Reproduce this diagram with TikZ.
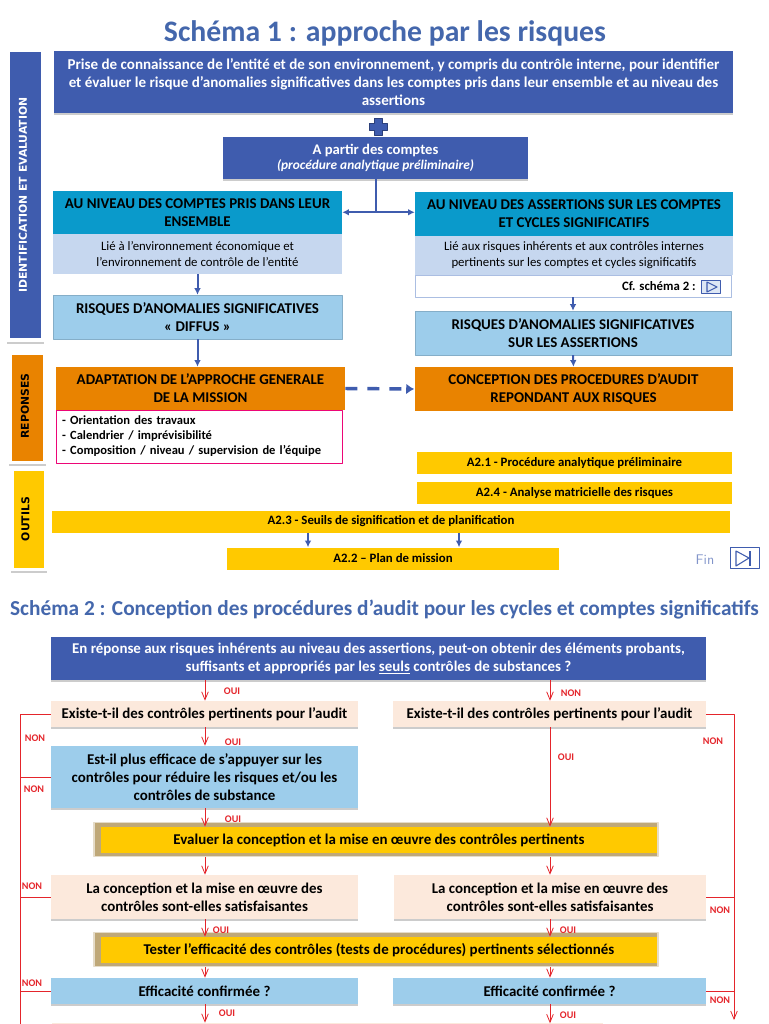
\documentclass[tikz,border=0pt]{standalone}
\usepackage{fontspec}
\usepackage{xcolor}
\usepackage{tikz}
\usetikzlibrary{calc, shadows, arrows.meta}
\setmainfont{Carlito}
\newfontfamily\widefont{DejaVu Sans}

\definecolor{bleu}{HTML}{3F5CAE}
\definecolor{titre}{HTML}{4467AC}
\definecolor{cyan}{HTML}{0A9ACB}
\definecolor{clair}{HTML}{C6D7EF}
\definecolor{ciel}{HTML}{9DCDEB}
\definecolor{orange}{HTML}{E98300}
\definecolor{jaune}{HTML}{FFC900}
\definecolor{peche}{HTML}{FCE9DC}
\definecolor{rouge}{HTML}{E4252B}
\definecolor{halo}{HTML}{BFA878}

\tikzset{
    bloc/.style={rectangle, inner sep=0pt, align=center, font=\bfseries\fontsize{11.2}{13.5}\selectfont},
    ombre/.style={drop shadow={shadow xshift=0pt, shadow yshift=-1.5pt, opacity=0.2, fill=black}},
    bleubox/.style={bloc, fill=bleu, text=white, ombre},
    cyanbox/.style={bloc, fill=cyan},
    clairbox/.style={bloc, fill=clair, font=\fontsize{9.6}{12}\selectfont},
    cielbox/.style={bloc, fill=ciel, draw=ciel!85!black, line width=0.3pt},
    orangebox/.style={bloc, fill=orange},
    jaunebox/.style={bloc, fill=jaune, font=\bfseries\fontsize{9.6}{11}\selectfont},
    pechebox/.style={bloc, fill=peche, ombre},
    cielombre/.style={bloc, fill=ciel, ombre},
    testbox/.style={bloc, fill=jaune},
    halobox/.style={rectangle, inner sep=0pt, fill=halo, draw=halo!40!white, line width=1.2pt},
    cadre/.style={fill=white, drop shadow={shadow xshift=0pt, shadow yshift=-1.5pt, opacity=0.2, fill=black}},
    cotebar/.style={rectangle, inner sep=0pt, align=center, font=\widefont\bfseries\fontsize{8.1}{9}\selectfont},
    oui/.style={inner sep=0pt, text=rouge, font=\bfseries\fontsize{7.6}{9}\selectfont},
    flechebleue/.style={draw=bleu, line width=1.5pt, -{Latex[length=5pt, width=5pt]}},
    flecherouge/.style={draw=rouge, line width=0.6pt, -{Straight Barb[length=6pt, width=5pt]}},
    lignerouge/.style={draw=rouge, line width=0.6pt}
}

\begin{document}
\begin{tikzpicture}[x=0.75pt, y=-0.75pt, line join=round]

    \useasboundingbox (0,0) rectangle (768,1024);

    % =========================
    % COORDONNEES DES COLONNES
    % =========================
    \coordinate (colG) at (205,0);
    \coordinate (colD) at (550,0);
    \coordinate (murG) at (20,0);
    \coordinate (murD) at (734,0);

    % =========================
    % SCHEMA 1
    % =========================
    \node[text=titre, font=\bfseries\fontsize{22.3}{24}\selectfont] (titre1) at (385,33) {Schéma 1 : approche par les risques};

    % Bandeaux de gauche
    \fill[cadre] (7,49) rectangle (44,342);
    \fill[cadre] (9,352) rectangle (46,464);
    \fill[cadre] (11,468) rectangle (47,571);
    \node[cotebar, fill=bleu, text=white, minimum width=23.25pt, minimum height=214.5pt] (bar1) at (25.5,195) {};
    \node[cotebar, fill=orange, minimum width=23.25pt, minimum height=79.5pt] (bar2) at (27.5,408) {};
    \node[cotebar, fill=jaune, minimum width=22.5pt, minimum height=73pt] (bar3) at (29,519.5) {};
    \node[cotebar, text=white, rotate=90] (txt1) at (23,195) {IDENTIFICATION ET EVALUATION};
    \node[cotebar, rotate=90] (txt2) at (25,406) {REPONSES};
    \node[cotebar, rotate=90] (txt3) at (25.5,519) {OUTILS};

    % Haut
    \node[bleubox, minimum width=509pt, minimum height=45.75pt, font=\bfseries\fontsize{11.3}{13.5}\selectfont] (prise) at (393.5,82)
        {Prise de connaissance de l’entité et de son environnement, y compris du contrôle interne, pour identifier\\
         et évaluer le risque d’anomalies significatives dans les comptes pris dans leur ensemble et au niveau des\\
         assertions};
    \fill[bleu, draw=bleu!70!black, line width=0.5pt] (374,118) -- (382,118) -- (382,123) -- (387,123) -- (387,130) -- (382,130) -- (382,135) -- (374,135) -- (374,130) -- (369,130) -- (369,123) -- (374,123) -- cycle;
    \node[bleubox, minimum width=228.75pt, minimum height=31.5pt, font=\bfseries\fontsize{11}{12.5}\selectfont] (partir) at (375.5,158)
        {A partir des comptes\\[-1pt]{\itshape\fontsize{10}{11}\selectfont (procédure analytique préliminaire)}};

    % Colonne gauche
    \node[cyanbox, minimum width=216.75pt, minimum height=32.25pt] (comptes) at (197.5,212.5)
        {AU NIVEAU DES COMPTES PRIS DANS LEUR\\ ENSEMBLE};
    \node[clairbox, minimum width=216.75pt, minimum height=30pt] (lieG) at (197.5,254)
        {Lié à l’environnement économique et\\ l’environnement de contrôle de l’entité};
    \node[cielbox, minimum width=216.75pt, minimum height=33pt] (diffus) at (197.5,317)
        {RISQUES D’ANOMALIES SIGNIFICATIVES\\ « DIFFUS »};
    \node[orangebox, minimum width=216.75pt, minimum height=32.25pt] (adapt) at (200.5,388.5)
        {ADAPTATION DE L’APPROCHE GENERALE\\ DE LA MISSION};
    \node[bloc, draw=magenta!80!red, line width=0.6pt, text width=206pt, inner xsep=4.5pt, minimum height=39.75pt, align=left, font=\bfseries\fontsize{9.4}{11.3}\selectfont] (liste) at (199.5,436.5)
        {- Orientation des travaux\\ - Calendrier / imprévisibilité\\ - Composition / niveau / supervision de l’équipe};

    % Colonne droite
    \node[cyanbox, minimum width=238.5pt, minimum height=33pt] (assert) at (574,214)
        {AU NIVEAU DES ASSERTIONS SUR LES COMPTES\\ ET CYCLES SIGNIFICATIFS};
    \node[clairbox, minimum width=238.5pt, minimum height=29.25pt] (lieD) at (574,255.5)
        {Lié aux risques inhérents et aux contrôles internes\\ pertinents sur les comptes et cycles significatifs};
    \node[bloc, draw=clair!80!bleu, line width=0.6pt, fill=white, minimum width=237pt, minimum height=16.5pt] (cf) at (573,286) {};
    \node[bloc, anchor=east, font=\bfseries\fontsize{9.6}{10}\selectfont] (cftxt) at (696,286) {Cf. schéma 2 :};
    \node[rectangle, draw=bleu, fill=clair!60!white, line width=0.8pt, minimum width=14pt, minimum height=10pt, inner sep=0pt] (cfbtn) at (711,287) {};
    \draw[bleu, line width=0.8pt] (707,282) -- (717,287) -- (707,292) -- cycle;
    \node[cielbox, minimum width=237pt, minimum height=33pt] (risques) at (573,333)
        {RISQUES D’ANOMALIES SIGNIFICATIVES\\ SUR LES ASSERTIONS};
    \node[orangebox, minimum width=238.5pt, minimum height=33pt] (concep) at (573.5,389)
        {CONCEPTION DES PROCEDURES D’AUDIT\\ REPONDANT AUX RISQUES};

    % Outils
    \node[jaunebox, minimum width=236pt, minimum height=17pt] (a21) at (574.5,463) {A2.1 - Procédure analytique préliminaire};
    \node[jaunebox, minimum width=236pt, minimum height=16.5pt] (a24) at (574.5,493) {A2.4 - Analyse matricielle des risques};
    \node[jaunebox, minimum width=508.5pt, minimum height=16.5pt] (a23) at (391,521.5) {A2.3 - Seuils de signification et de planification};
    \node[jaunebox, minimum width=249pt, minimum height=16.5pt] (a22) at (393,558.5) {A2.2 – Plan de mission};
    \node[text=bleu!65!white, font=\sffamily\fontsize{10.5}{12}\selectfont, inner sep=0pt] (fin) at (705,560) {Fin};
    \node[rectangle, draw=bleu, line width=0.9pt, minimum width=22pt, minimum height=16pt, inner sep=0pt] (finbtn) at (745,558) {};
    \draw[bleu, line width=0.8pt] (736,551) -- (749,558) -- (736,566) -- cycle;
    \draw[bleu, line width=0.8pt] (750,551) -- (750,566);

    % Fleches du schema 1
    \draw[draw=bleu, line width=1.5pt] (partir.south) -- ++(0,33) coordinate (noeud);
    \draw[draw=bleu, line width=1.5pt, {Latex[length=5pt, width=5pt]}-{Latex[length=5pt, width=5pt]}] (noeud -| comptes.east) -- (noeud -| assert.west);
    \draw[flechebleue] (lieG.south) -- (diffus.north);
    \draw[flechebleue] (diffus.south) -- (diffus.south |- adapt.north);
    \draw[flechebleue] (cf.south) -- (risques.north);
    \draw[flechebleue] (risques.south) -- (concep.north);
    \draw[flechebleue, line width=2.6pt, dash pattern=on 9pt off 7.5pt, -{Latex[length=6pt, width=8pt]}] (adapt.east) -- (concep.west);
    \draw[flechebleue] (a23.south -| 308,0) -- (a22.north -| 308,0);
    \draw[flechebleue] (a23.south -| 459,0) -- (a22.north -| 459,0);

    % =========================
    % SCHEMA 2
    % =========================
    \node[text=titre, font=\bfseries\fontsize{16}{18}\selectfont] (titre2) at (384.5,610) {Schéma 2 : Conception des procédures d’audit pour les cycles et comptes significatifs};

    \node[bleubox, minimum width=491.25pt, minimum height=32.25pt] (reponse) at (378.5,658.5)
        {En réponse aux risques inhérents au niveau des assertions, peut-on obtenir des éléments probants,\\
         suffisants et appropriés par les \underline{seuls} contrôles de substances ?};

    \node[pechebox, minimum width=230.25pt, minimum height=19.5pt] (existeG) at (204.5,714) {Existe-t-il des contrôles pertinents pour l’audit};
    \node[pechebox, minimum width=234.75pt, minimum height=19.5pt] (existeD) at (549.5,714) {Existe-t-il des contrôles pertinents pour l’audit};
    \node[cielombre, minimum width=230.25pt, minimum height=46.5pt] (appui) at (204.5,777)
        {Est-il plus efficace de s’appuyer sur les\\ contrôles pour réduire les risques et/ou les\\ contrôles de substance};
    \node[halobox, minimum width=423pt, minimum height=25.5pt] (fondE) at (376,839.5) {};
    \node[testbox, minimum width=417pt, minimum height=19.5pt] (evaluer) at (379,840) {Evaluer la conception et la mise en œuvre des contrôles pertinents};
    \node[pechebox, minimum width=230.25pt, minimum height=33pt] (satisG) at (204.5,897)
        {La conception et la mise en œuvre des\\ contrôles sont-elles satisfaisantes};
    \node[pechebox, minimum width=234pt, minimum height=33pt] (satisD) at (550,897)
        {La conception et la mise en œuvre des\\ contrôles sont-elles satisfaisantes};
    \node[halobox, minimum width=423pt, minimum height=25.5pt] (fondT) at (376,949.5) {};
    \node[testbox, minimum width=417pt, minimum height=19.5pt] (tester) at (379,950) {Tester l’efficacité des contrôles (tests de procédures) pertinents sélectionnés};
    \node[cielombre, minimum width=230.25pt, minimum height=19.5pt] (effG) at (204.5,991) {Efficacité confirmée ?};
    \node[cielombre, minimum width=234.75pt, minimum height=19.5pt] (effD) at (549.5,991) {Efficacité confirmée ?};
    \node[bloc, fill=peche, minimum width=413pt, minimum height=15pt] (suite) at (327.5,1033) {};

    % Fleches rouges
    \draw[flecherouge] (reponse.south -| colG) -- (existeG.north -| colG);
    \draw[flecherouge] (reponse.south -| colD) -- (existeD.north -| colD);
    \draw[flecherouge] (existeG.south -| colG) -- (appui.north -| colG);
    \draw[flecherouge] (existeD.south -| colD) -- (evaluer.north -| colD);
    \draw[flecherouge] (appui.south -| colG) -- (evaluer.north -| colG);
    \draw[flecherouge] (fondE.south -| colG) -- (satisG.north -| colG);
    \draw[flecherouge] (fondE.south -| colD) -- (satisD.north -| colD);
    \draw[flecherouge] (satisG.south -| colG) -- (tester.north -| colG);
    \draw[flecherouge] (satisD.south -| colD) -- (tester.north -| colD);
    \draw[flecherouge] (fondT.south -| colG) -- (effG.north -| colG);
    \draw[flecherouge] (fondT.south -| colD) -- (effD.north -| colD);
    \draw[flecherouge] (effG.south -| colG) -- (suite.north -| colG);
    \draw[flecherouge] (effD.south -| colD) -- ($(effD.south -| colD)+(0,19)$);

    % Retours NON
    \coordinate (basG) at (20,1030);
    \coordinate (basD) at (734,1020);
    \draw[lignerouge] (existeG.west) -| (basG);
    \draw[lignerouge] (appui.west) -- (appui.west -| murG);
    \draw[lignerouge] (satisG.west) -- (satisG.west -| murG);
    \draw[lignerouge] (effG.west) -- (effG.west -| murG);
    \draw[flecherouge] (existeD.east) -| (basD);
    \draw[lignerouge] (satisD.east) -- (satisD.east -| murD);
    \draw[lignerouge] (effD.east) -- (effD.east -| murD);

    % =========================
    % ETIQUETTES OUI / NON
    % =========================
    \node[oui] (oui1) at (232,691) {OUI};
    \node[oui] (non1) at (571,693) {NON};
    \node[oui] (oui2) at (233,742) {OUI};
    \node[oui] (oui3) at (566,757) {OUI};
    \node[oui] (oui4) at (233,819) {OUI};
    \node[oui] (oui5) at (221,930) {OUI};
    \node[oui] (oui6) at (568,930) {OUI};
    \node[oui] (oui7) at (227,1013) {OUI};
    \node[oui] (oui8) at (568,1015) {OUI};
    \node[oui] (non2) at (35,738) {NON};
    \node[oui] (non3) at (34,789) {NON};
    \node[oui] (non4) at (32,886) {NON};
    \node[oui] (non5) at (32,983) {NON};
    \node[oui] (non6) at (713,741) {NON};
    \node[oui] (non7) at (720,910) {NON};
    \node[oui] (non8) at (720,1000) {NON};

\end{tikzpicture}
\end{document}
